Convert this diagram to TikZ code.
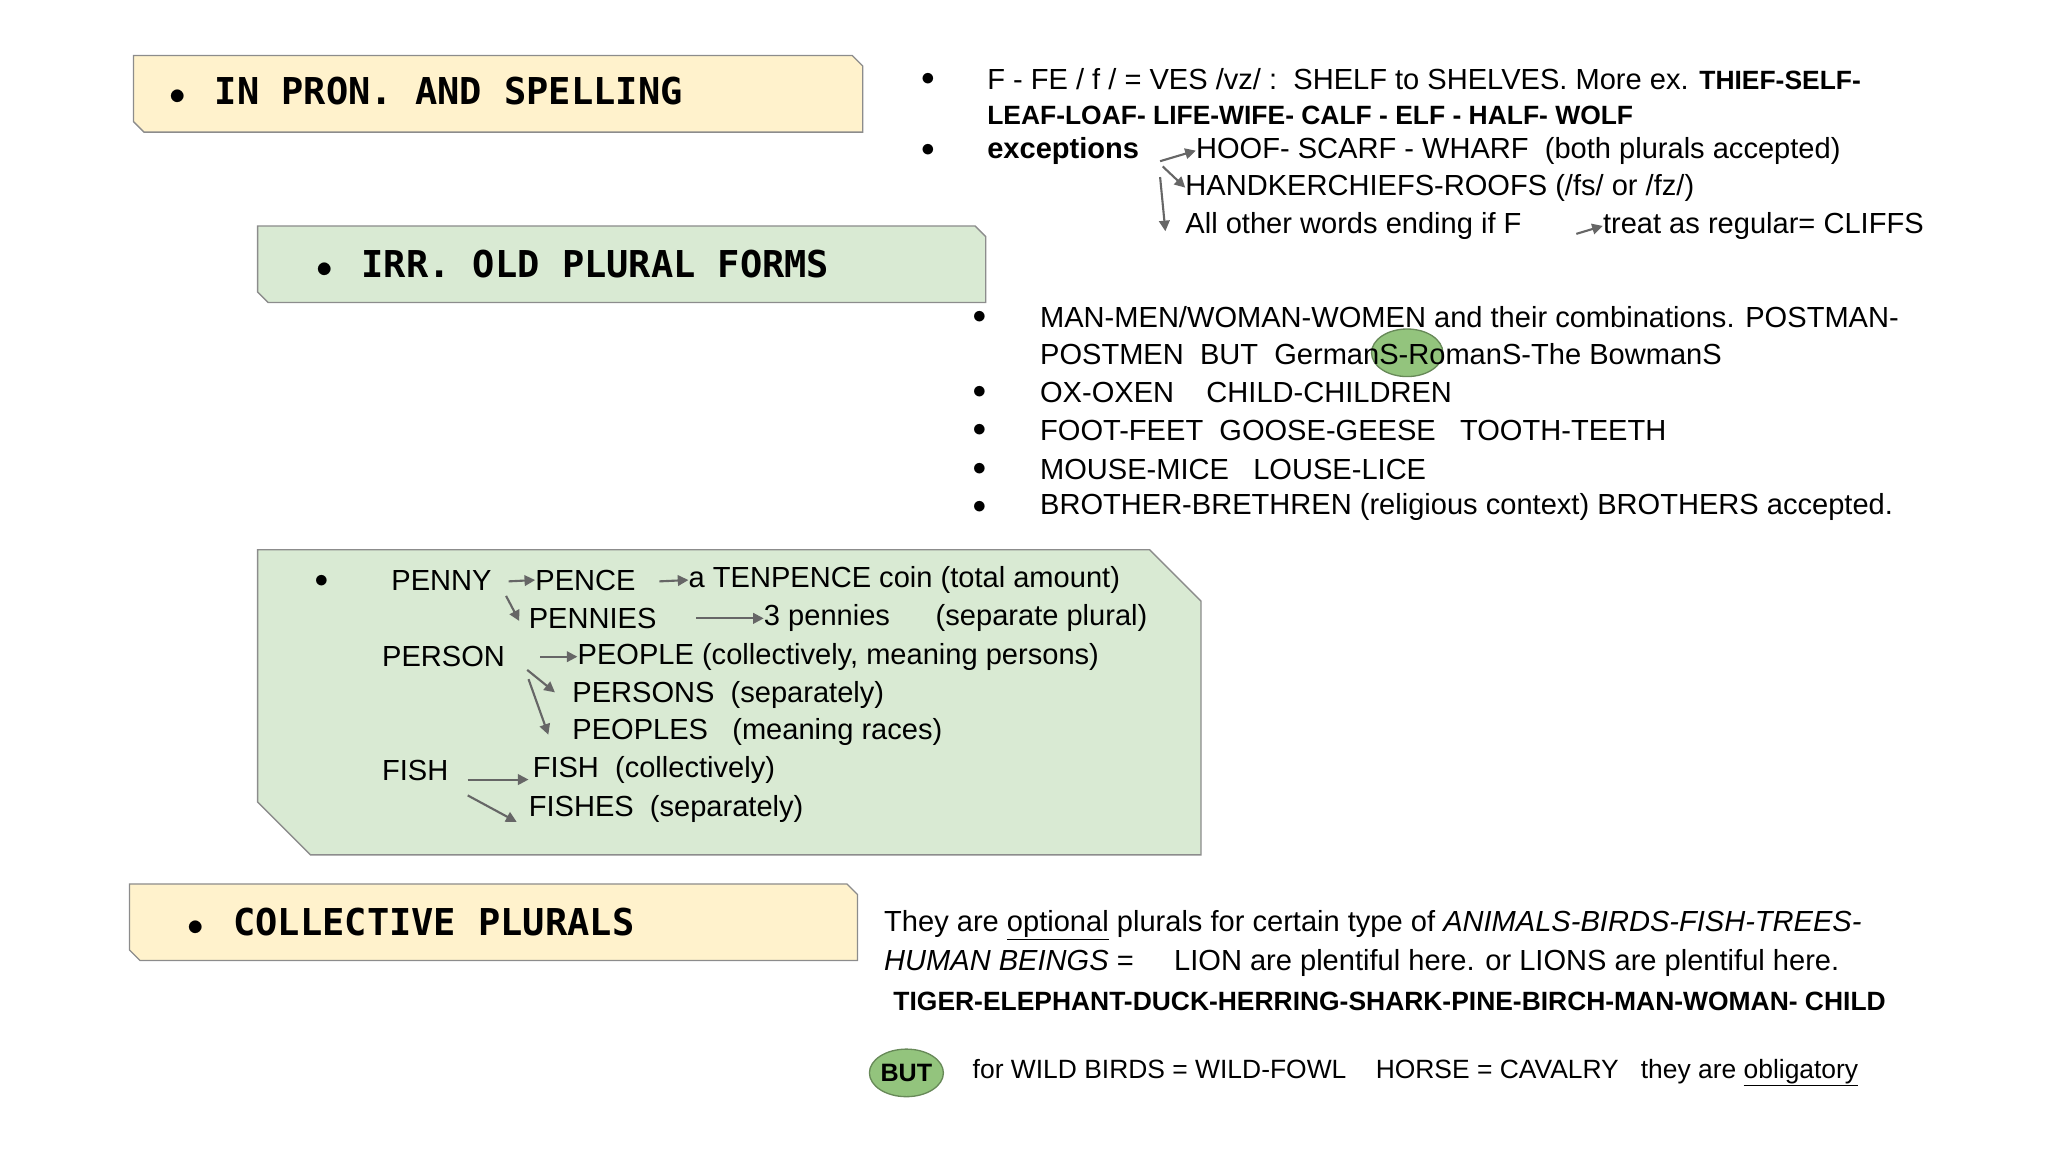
\documentclass[tikz,border=0pt]{standalone}
\usepackage{fontspec}
\setmainfont{Liberation Sans}
\newfontfamily\monob{DejaVu Sans Mono}[BoldFont={DejaVu Sans Mono Bold}]
\usetikzlibrary{arrows.meta,shapes.geometric}
\definecolor{ylw}{HTML}{FFF2CC}
\definecolor{grn}{HTML}{D9EAD3}
\definecolor{dgrn}{HTML}{93C47D}
\definecolor{arr}{HTML}{666666}
\tikzset{
 tx/.style={anchor=west,inner sep=0pt,font=\fontsize{22}{26}\selectfont},
 sm/.style={anchor=west,inner sep=0pt,font=\fontsize{20}{24}\selectfont},
 ttl/.style={anchor=west,inner sep=0pt,font=\monob\bfseries\fontsize{28}{32}\selectfont},
 bx/.style={draw=black!45,line width=1pt},
 ar/.style={draw=arr,line width=1.6pt,-{Triangle[length=8pt,width=8pt]}},
 ov/.style={draw=dgrn!70!black,fill=dgrn,line width=1pt},
}
\begin{document}
\begin{tikzpicture}[x=1pt,y=-1pt]
\useasboundingbox (0,0) rectangle (1550,872);
% boxes
\draw[bx,fill=ylw] (101,42) -- (645,42) -- (653,50) -- (653,100) -- (109,100) -- (101,92) -- cycle;
\draw[bx,fill=grn] (195,171) -- (738,171) -- (746,179) -- (746,229) -- (203,229) -- (195,221) -- cycle;
\draw[bx,fill=grn] (195,416) -- (870,416) -- (909,455) -- (909,647) -- (235,647) -- (195,607) -- cycle;
\draw[bx,fill=ylw] (98,669) -- (641,669) -- (649,677) -- (649,727) -- (106,727) -- (98,719) -- cycle;
\node[ttl] (t1) at (128,69) {$\bullet$\hspace{22pt}IN PRON. AND SPELLING};
\node[ttl] (t2) at (239,200) {$\bullet$\hspace{22pt}IRR. OLD PLURAL FORMS};
\node[ttl] (t4) at (142,698) {$\bullet$\hspace{22pt}COLLECTIVE PLURALS};
% ellipses
\node[ov,ellipse,minimum width=54pt,minimum height=36pt,inner sep=0pt] (e1) at (1065,267) {};
\node[ov,ellipse,minimum width=56pt,minimum height=36pt,inner sep=0pt] (e2) at (686,812) {};
% top right
\node[tx] (b1) at (697,60) {$\bullet$};
\node[tx] (l1) at (747,60) {F - FE / f / = VES /vz/ :\ \ SHELF to SHELVES. More ex. {\bfseries\fontsize{20}{24}\selectfont THIEF-SELF-}};
\node[sm] (l2) at (747,87) {\bfseries LEAF-LOAF- LIFE-WIFE- CALF - ELF - HALF- WOLF};
\node[tx] (b2) at (697,114) {$\bullet$};
\node[tx] (ex) at (747,114) {\bfseries exceptions};
\node[tx] (h1) at (905,114) {HOOF- SCARF - WHARF\ \ (both plurals accepted)};
\node[tx] (h2) at (897,142) {HANDKERCHIEFS-ROOFS (/fs/ or /fz/)};
\node[tx] (h3) at (897,171) {All other words ending if F};
\node[tx] (h4) at (1213,171) {treat as regular= CLIFFS};
\coordinate (a1) at (878,122); \coordinate (a2) at (880,126); \coordinate (a3) at (878,134);
\coordinate (a4) at (1193,177); \coordinate (a5) at (882,175);
\draw[ar] (a1) -- (h1.west);
\draw[ar] (a2) -- (h2.west);
\draw[ar] (a3) -- (a5);
\draw[ar] (a4) -- (h4.west);
% irr list
\foreach \y in {240,297,326,355,384} \node[tx] at (736,\y) {$\bullet$};
\node[tx] (m1) at (787,240) {MAN-MEN/WOMAN-WOMEN and their combinations. POSTMAN-};
\node[tx] (m2) at (787,268) {POSTMEN\ \ BUT\ \ GermanS-RomanS-The BowmanS};
\node[tx] (m3) at (787,297) {OX-OXEN\ \ \ \ CHILD-CHILDREN};
\node[tx] (m4) at (787,326) {FOOT-FEET\ \ GOOSE-GEESE\ \ \ TOOTH-TEETH};
\node[tx] (m5) at (787,355) {MOUSE-MICE\ \ \ LOUSE-LICE};
\node[tx] (m6) at (787,384) {BROTHER-BRETHREN (religious context) BROTHERS accepted.};
% green box content
\node[tx] at (238,440) {$\bullet$};
\node[tx] (p1) at (296,439) {PENNY};
\node[tx] (p2) at (405,439) {PENCE};
\node[tx] (p3) at (521,439) {a TENPENCE coin (total amount)};
\node[tx] (p4) at (400,468) {PENNIES};
\node[tx] (p5) at (578,468) {3 pennies};
\node[tx] (p6) at (708,468) {(separate plural)};
\node[tx] (q1) at (289,497) {PERSON};
\node[tx] (q2) at (437,497) {PEOPLE (collectively, meaning persons)};
\node[tx] (q3) at (433,526) {PERSONS\ \ (separately)};
\node[tx] (q4) at (433,554) {PEOPLES\ \ \ (meaning races)};
\node[tx] (f1) at (289,583) {FISH};
\node[tx] (f2) at (403,583) {FISH\ \ (collectively)};
\node[tx] (f3) at (400,612) {FISHES\ \ (separately)};
\draw[ar] (385,440) -- (p2.west);
\draw[ar] (499,440) -- (p3.west);
\draw[ar] (383,451) -- (393,470);
\draw[ar] (527,468) -- (p5.west);
\draw[ar] (409,497) -- (q2.west);
\draw[ar] (399,507) -- (420,524);
\draw[ar] (400,514) -- (415,556);
\draw[ar] (354,590) -- (400,590);
\draw[ar] (354,602) -- (391,622);
% collective
\node[tx] (c1) at (669,700) {They are \underline{optional} plurals for certain type of \textit{ANIMALS-BIRDS-FISH-TREES-}};
\node[tx] (c2) at (669,729) {\textit{HUMAN BEINGS} =\ \ \ \ \ LION are plentiful here. or LIONS are plentiful here.};
\node[sm] (c3) at (676,758) {\bfseries TIGER-ELEPHANT-DUCK-HERRING-SHARK-PINE-BIRCH-MAN-WOMAN- CHILD};
\node[font=\bfseries\fontsize{19}{22}\selectfont,inner sep=0pt] at (e2) {BUT};
\node[sm] (c4) at (736,812) {for WILD BIRDS = WILD-FOWL\ \ \ \ HORSE = CAVALRY\ \ \ they are \underline{obligatory}};
\end{tikzpicture}
\end{document}
